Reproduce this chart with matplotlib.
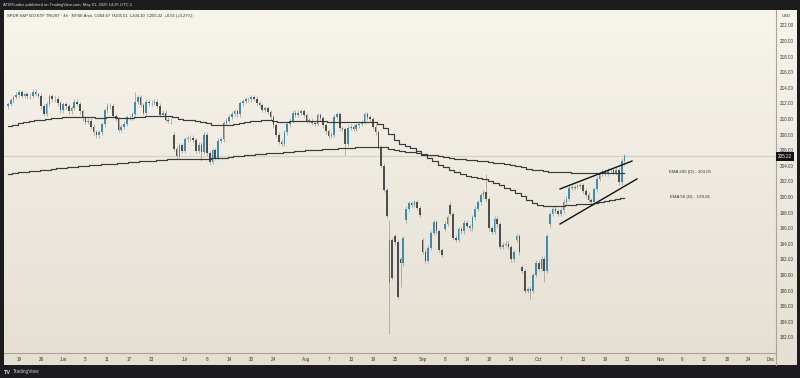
import numpy as np
import pandas as pd
import matplotlib
matplotlib.use("Agg")
import matplotlib.pyplot as plt

plt.rcParams['font.family'] = ['Liberation Sans', 'DejaVu Sans']

# ---- data: SPY 4h bars (two per trading day), 15 May - 22 Oct 2015 ----
closes = [
    211.9, 212.4, 212.8, 213.1, 213.4, 213.0, 213.2, 212.9, 213.0, 213.5, 213.2, 213.0,
    211.6, 210.7, 211.9, 212.9, 212.5, 212.6, 212.0, 211.1,
    211.9, 211.6, 211.0, 211.4, 212.2, 211.9, 211.0, 210.1, 209.6, 209.8,
    209.0, 208.3, 207.9, 208.3, 209.3, 211.1, 211.7, 211.6, 210.4, 210.0,
    208.6, 209.0, 209.4, 210.2, 210.2, 210.6, 212.2, 212.8, 211.8, 210.8,
    212.2, 212.0, 212.1, 212.2, 211.7, 210.5, 210.8, 209.9, 209.8, 209.7,
    206.2, 205.3, 206.6, 205.9, 207.4, 207.5, 207.6, 207.3,
    205.9, 206.7, 205.8, 208.0, 205.6, 204.5, 206.0, 205.0, 207.2, 207.4,
    209.5, 209.8, 210.3, 210.7, 211.0, 210.6, 212.0, 212.3, 212.5, 212.5,
    212.8, 212.6, 212.0, 211.8, 211.2, 211.4, 210.9, 210.2, 209.2, 208.0,
    207.1, 206.8, 208.3, 209.3, 209.8, 210.8, 210.5, 210.8, 211.0, 210.5,
    209.8, 209.8, 209.5, 209.4, 210.5, 210.1, 209.2, 208.4, 207.8, 208.0,
    210.3, 210.6, 208.8, 208.7, 206.8, 208.9, 209.0, 208.7, 209.2, 209.4,
    209.6, 210.6, 210.2, 210.0, 209.0, 208.3, 206.4, 204.0, 200.9, 197.6,
    194.5, 189.6, 194.2, 187.2, 191.5, 194.7, 198.5, 199.2, 199.0, 199.3,
    198.6, 197.7, 193.0, 191.8, 193.5, 195.4, 196.8, 195.6, 193.2, 192.6,
    196.6, 197.4, 197.8, 194.8, 194.5, 195.9, 195.6, 196.7,
    196.3, 196.0, 197.4, 198.5, 199.3, 200.2, 200.6, 199.7, 196.0, 195.5,
    197.2, 196.5, 193.6, 193.9, 194.0, 193.6, 192.0, 192.9, 195.0, 192.9,
    190.5, 188.0, 188.2, 188.0, 190.0, 191.6, 190.8, 192.1, 190.5, 195.0,
    197.8, 198.5, 198.2, 197.8, 198.3, 199.4, 199.8, 201.2, 201.2, 201.3,
    201.4, 201.5, 200.8, 200.3, 199.6, 199.3, 201.0, 202.35, 203.0, 203.3,
    203.0, 203.4, 203.4, 203.1, 203.5, 201.9, 204.67, 205.22,
]
first_open = 211.6
gap_opens = {60: 208.0, 138: 189.0, 140: 195.0, 142: 192.0, 144: 197.0, 150: 194.5,
             158: 195.9, 160: 199.0, 184: 194.5, 186: 191.0, 196: 196.5}
wick_high = {46: 213.4, 138: 197.0, 160: 199.4, 173: 202.9, 223: 205.51}
wick_low = {70: 204.6, 122: 205.4, 138: 182.4, 141: 186.9, 142: 188.4,
            189: 186.9, 194: 189.1, 223: 204.10}

# daily EMAs (one value per trading day)
ema50_daily = [
    209.13, 209.29, 209.43, 209.57, 209.72, 209.85, 209.88, 210.00, 210.10, 210.14,
    210.20, 210.25, 210.31, 210.30, 210.28, 210.20, 210.13, 210.16, 210.22, 210.21,
    210.16, 210.16, 210.18, 210.28, 210.30, 210.37, 210.44, 210.44, 210.42, 210.39,
    210.19, 210.02, 209.92, 209.82, 209.70, 209.63, 209.43, 209.26, 209.19, 209.21,
    209.27, 209.32, 209.44, 209.56, 209.68, 209.76, 209.82, 209.83, 209.76, 209.64,
    209.63, 209.68, 209.72, 209.75, 209.75, 209.74, 209.75, 209.69, 209.63, 209.66,
    209.62, 209.60, 209.56, 209.56, 209.60, 209.61, 209.56, 209.34, 208.88, 208.12,
    207.30, 206.81, 206.51, 206.22, 205.89, 205.34, 204.95, 204.58, 204.11, 203.85,
    203.49, 203.19, 202.94, 202.67, 202.50, 202.41, 202.31, 202.04, 201.82, 201.51,
    201.20, 200.88, 200.56, 200.07, 199.60, 199.29, 199.01, 198.85, 198.84, 198.80,
    198.82, 198.91, 199.01, 199.09, 199.12, 199.12, 199.22, 199.36, 199.49, 199.61,
    199.68, 199.81,
]
ema200_daily = [
    203.00, 203.08, 203.16, 203.23, 203.31, 203.38, 203.45, 203.52, 203.59, 203.66,
    203.73, 203.80, 203.86, 203.93, 203.99, 204.05, 204.11, 204.17, 204.23, 204.29,
    204.34, 204.40, 204.45, 204.51, 204.57, 204.62, 204.67, 204.72, 204.77, 204.81,
    204.82, 204.83, 204.86, 204.88, 204.90, 204.93, 204.93, 204.96, 205.00, 205.06,
    205.13, 205.19, 205.27, 205.35, 205.43, 205.50, 205.57, 205.63, 205.67, 205.69,
    205.74, 205.81, 205.87, 205.93, 205.98, 206.03, 206.08, 206.11, 206.14, 206.20,
    206.24, 206.28, 206.31, 206.36, 206.41, 206.45, 206.47, 206.44, 206.35, 206.18,
    205.99, 205.88, 205.81, 205.74, 205.66, 205.52, 205.42, 205.32, 205.19, 205.12,
    205.02, 204.93, 204.85, 204.76, 204.70, 204.65, 204.60, 204.51, 204.42, 204.31,
    204.20, 204.08, 203.96, 203.80, 203.64, 203.52, 203.40, 203.31, 203.26, 203.20,
    203.16, 203.14, 203.12, 203.10, 203.07, 203.03, 203.02, 203.03, 203.04, 203.05,
    203.04, 203.05,
]

# hand-drawn channel lines: (bar index, price)
upper_channel = [(199.7, 201.03), (225.7, 204.6)]
lower_channel = [(199.7, 196.54), (227.5, 202.31)]

holidays = ['2015-05-25', '2015-07-03', '2015-09-07', '2015-11-26']
tick_dates = ['2015-05-19', '2015-05-26', '2015-06-01', '2015-06-05', '2015-06-11',
              '2015-06-17', '2015-06-23', '2015-07-01', '2015-07-08', '2015-07-14',
              '2015-07-20', '2015-07-24', '2015-08-03', '2015-08-07', '2015-08-13',
              '2015-08-19', '2015-08-25', '2015-09-01', '2015-09-08', '2015-09-14',
              '2015-09-18', '2015-09-24', '2015-10-01', '2015-10-07', '2015-10-13',
              '2015-10-19', '2015-10-23', '2015-11-02', '2015-11-06', '2015-11-12',
              '2015-11-18', '2015-11-24', '2015-12-01']
tick_labels = ['19', '26', 'Jun', '5', '11', '17', '23', 'Jul', '8', '14', '20', '24',
               'Aug', '7', '13', '19', '25', 'Sep', '8', '14', '18', '24', 'Oct', '7',
               '13', '19', '23', 'Nov', '6', '12', '18', '24', 'Dec']
price_ticks = list(range(182, 223, 2))
last_price = 205.22

# ---- build OHLC ----
closes = np.array(closes)
opens = np.concatenate([[first_open], closes[:-1]])
for k, v in gap_opens.items():
    opens[k] = v
wick = 0.3
highs = np.maximum(opens, closes) + wick
lows = np.minimum(opens, closes) - wick
for k, v in wick_high.items():
    highs[k] = v
for k, v in wick_low.items():
    lows[k] = v
x = np.arange(len(closes))

days = pd.bdate_range('2015-05-15', '2015-12-04')
days = days[~days.isin(pd.to_datetime(holidays))]
day_pos = {d.strftime('%Y-%m-%d'): 2 * i for i, d in enumerate(days)}
tick_pos = [day_pos[d] for d in tick_dates]

# ---- figure ----
W, H = 800, 378
fig = plt.figure(figsize=(8, 3.78), dpi=100, facecolor='#1c1c1e')

bg = fig.add_axes([4 / W, 13 / H, 793 / W, 355 / H])
grad = np.linspace(0, 1, 256).reshape(-1, 1)
top_c = np.array([247, 244, 236]) / 255
bot_c = np.array([229, 223, 211]) / 255
img = top_c[None, None, :] * (1 - grad[:, :, None]) + bot_c[None, None, :] * grad[:, :, None]
bg.imshow(img, aspect='auto', extent=[0, 1, 0, 1])
bg.axis('off')

ax = fig.add_axes([4 / W, 25 / H, 772 / W, 343 / H])
ax.set_facecolor('none')
ax.set_xlim(-1.42, 277.8)
ax.set_ylim(180.0, 223.97)

# last price line
ax.axhline(last_price, color='#d6d0c4', lw=0.8, zorder=1)

up = closes >= opens
col = np.where(up, '#3d8db0', '#4e4e4e')
ax.vlines(x, lows, highs, color='#9c9890', lw=0.5, zorder=2)
body_lo = np.minimum(opens, closes)
body_h = np.maximum(np.abs(closes - opens), 0.08)
ax.bar(x, body_h, bottom=body_lo, width=0.6, color=col, lw=0, zorder=3)

ema50 = np.repeat(ema50_daily, 2)
ema200 = np.repeat(ema200_daily, 2)
ax.plot(x, ema200, color='#3a3a3a', lw=0.85, drawstyle='steps-mid', zorder=4)
ax.plot(x, ema50, color='#3a3a3a', lw=0.85, drawstyle='steps-mid', zorder=4)

for line in (upper_channel, lower_channel):
    xs, ys = zip(*line)
    ax.plot(xs, ys, color='#111111', lw=1.0, zorder=5)

ax.text(239, 203.2, 'EMA 200 (D) - 203.05', fontsize=3.2, color='#333333', va='center')
ax.text(239.5, 200.0, 'EMA 50 (D) - 199.81', fontsize=3.2, color='#333333', va='center')

# axes
ax.yaxis.tick_right()
ax.set_yticks(price_ticks)
ax.set_yticklabels([f'{p:.2f}' for p in price_ticks])
ax.set_xticks(tick_pos)
ax.set_xticklabels(tick_labels)
ax.tick_params(axis='y', length=0, pad=3, labelsize=3.3, labelcolor='#333333')
ax.tick_params(axis='x', length=0, pad=3, labelsize=3.3, labelcolor='#333333')
for s in ('top', 'left'):
    ax.spines[s].set_visible(False)
for s in ('bottom', 'right'):
    ax.spines[s].set_color('#aaa59b')
    ax.spines[s].set_linewidth(0.8)
fig.add_artist(plt.Line2D([776 / W, 776 / W], [13 / H, 25 / H], color='#aaa59b', lw=0.8))

ax.text(1.002, last_price, '205.22', transform=ax.get_yaxis_transform(), fontsize=3.3,
        color='white', va='center', ha='left', zorder=10,
        bbox=dict(boxstyle='square,pad=0.4', fc='#111111', ec='none'))
fig.text(786 / W, 1 - 16 / H, 'USD', fontsize=3.1, color='#333333', ha='center', va='center')

fig.text(3 / W, 1 - 5 / H, 'ATMTrades published on TradingView.com, May 01, 2025 14:25 UTC-5',
         fontsize=3.0, color='#d8d8d8', va='center')
fig.text(7 / W, 1 - 16 / H,
         'SPDR S&P 500 ETF TRUST \u00b7 4h \u00b7 NYSE Arca  O204.67  H205.51  L204.10  C205.22  +0.55 (+0.27%)',
         fontsize=3.0, color='#2a2a2a', va='center')
fig.text(4 / W, 1 - 372 / H, 'TV', fontsize=4, fontweight='bold', color='#e0e0e0', va='center')
fig.text(13 / W, 1 - 372 / H, 'TradingView', fontsize=3.4, color='#cfcfcf', va='center')

fig.savefig('out.png', dpi=100, facecolor=fig.get_facecolor())
